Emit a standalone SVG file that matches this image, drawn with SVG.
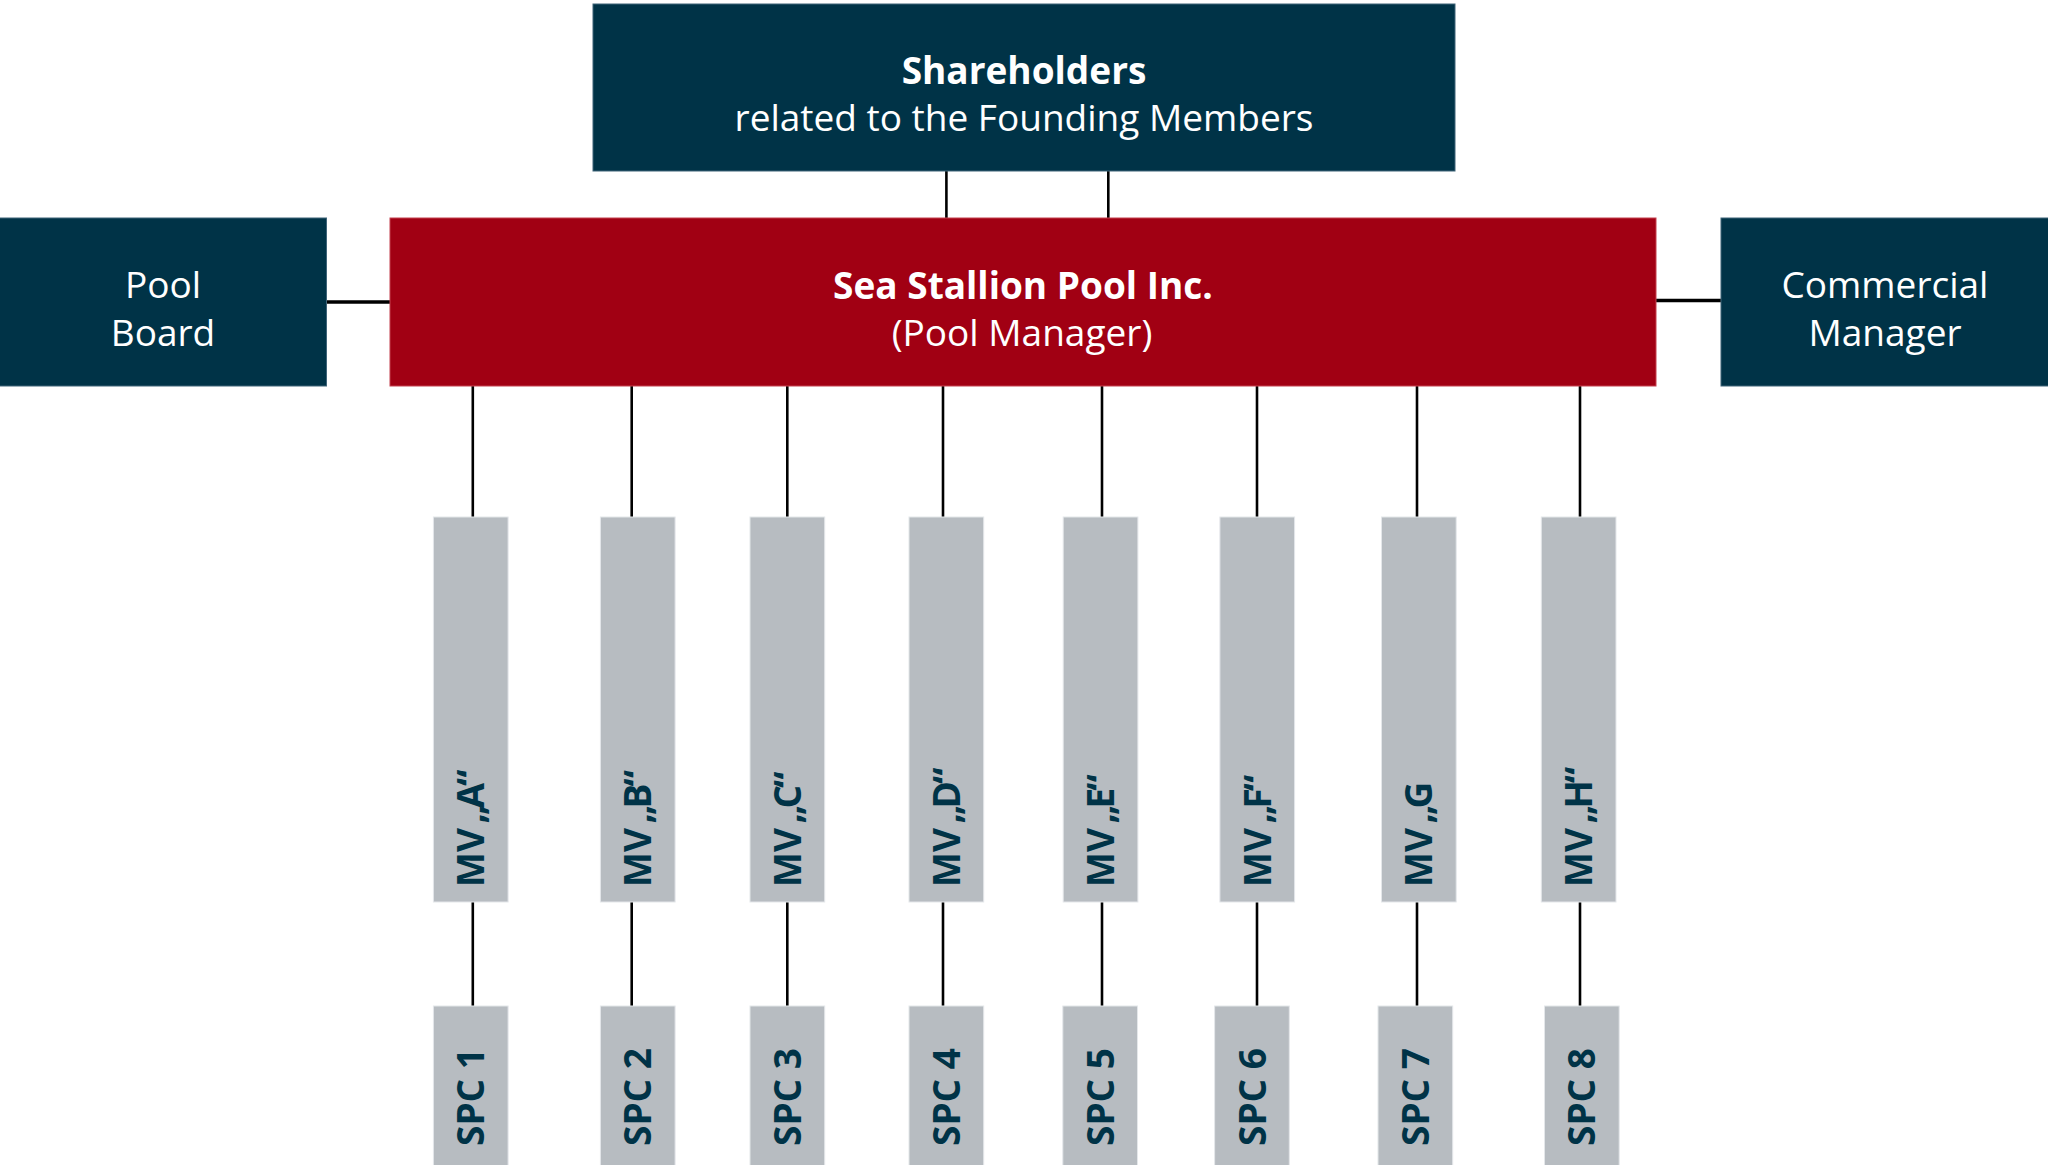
<svg xmlns="http://www.w3.org/2000/svg" width="2048" height="1165" viewBox="0 0 2048 1165">
<style>
.navy{fill:#003347;stroke:#3f6479;stroke-width:1}
.red{fill:#A10013;stroke:#c4404f;stroke-width:1}
.grey{fill:#B7BCC1;stroke:#e4e7ea;stroke-width:1}
.wt{fill:#ffffff;font-family:"Open Sans","Noto Sans",sans-serif;font-size:37px;text-anchor:middle}
.b{font-weight:700}
.lbl{fill:#003347;font-family:"Open Sans","Noto Sans",sans-serif;font-size:37px;font-weight:700;text-anchor:start}
.ln{stroke:#000;stroke-width:2.6;fill:none}
.lnh{stroke:#000;stroke-width:3.5;fill:none}
</style>
<rect width="2048" height="1165" fill="#ffffff"/>
<g id="connectors">
<line class="ln" x1="946.4" y1="171" x2="946.4" y2="218"/>
<line class="ln" x1="1108.3" y1="171" x2="1108.3" y2="218"/>
<line class="lnh" x1="326" y1="302" x2="391" y2="302"/>
<line class="lnh" x1="1655" y1="300.5" x2="1722" y2="300.5"/>
<line class="ln" x1="472.8" y1="386" x2="472.8" y2="517"/>
<line class="ln" x1="631.7" y1="386" x2="631.7" y2="517"/>
<line class="ln" x1="787.3" y1="386" x2="787.3" y2="517"/>
<line class="ln" x1="943" y1="386" x2="943" y2="517"/>
<line class="ln" x1="1102" y1="386" x2="1102" y2="517"/>
<line class="ln" x1="1257" y1="386" x2="1257" y2="517"/>
<line class="ln" x1="1417" y1="386" x2="1417" y2="517"/>
<line class="ln" x1="1580" y1="386" x2="1580" y2="517"/>
<line class="ln" x1="472.8" y1="902" x2="472.8" y2="1006"/>
<line class="ln" x1="631.7" y1="902" x2="631.7" y2="1006"/>
<line class="ln" x1="787.3" y1="902" x2="787.3" y2="1006"/>
<line class="ln" x1="943" y1="902" x2="943" y2="1006"/>
<line class="ln" x1="1102" y1="902" x2="1102" y2="1006"/>
<line class="ln" x1="1257" y1="902" x2="1257" y2="1006"/>
<line class="ln" x1="1417" y1="902" x2="1417" y2="1006"/>
<line class="ln" x1="1580" y1="902" x2="1580" y2="1006"/>
</g>
<g id="shareholders">
<rect class="navy" x="593" y="4" width="862" height="167"/>
<text class="wt b" x="1024" y="84" font-size="36">Shareholders</text>
<text class="wt" x="1024" y="131">related to the Founding Members</text>
</g>
<g id="pool-board">
<rect class="navy" x="-1" y="218" width="327.5" height="168"/>
<text class="wt" x="163" y="298">Pool</text>
<text class="wt" x="163" y="346">Board</text>
</g>
<g id="pool-manager">
<rect class="red" x="390" y="218" width="1266" height="168"/>
<text class="wt b" x="1023" y="298.5" font-size="36">Sea Stallion Pool Inc.</text>
<text class="wt" x="1022" y="345.5">(Pool Manager)</text>
</g>
<g id="commercial-manager">
<rect class="navy" x="1721" y="218" width="328" height="168"/>
<text class="wt" x="1885" y="298">Commercial</text>
<text class="wt" x="1885" y="346">Manager</text>
</g>
<g id="mv-a"><rect class="grey" x="433.4" y="517" width="74.7" height="385"/><text class="lbl" transform="translate(484.3,887) rotate(-90)">MV <tspan dx="-5">„</tspan><tspan dx="-4">A</tspan><tspan dx="-3">“</tspan></text></g>
<g id="mv-b"><rect class="grey" x="600.4" y="517" width="74.7" height="385"/><text class="lbl" transform="translate(651.3,887) rotate(-90)">MV <tspan dx="-5">„</tspan><tspan dx="-4">B</tspan><tspan dx="-3">“</tspan></text></g>
<g id="mv-c"><rect class="grey" x="750" y="517" width="74.7" height="385"/><text class="lbl" transform="translate(800.9,887) rotate(-90)">MV <tspan dx="-5">„</tspan><tspan dx="-4">C</tspan><tspan dx="-3">“</tspan></text></g>
<g id="mv-d"><rect class="grey" x="909" y="517" width="74.7" height="385"/><text class="lbl" transform="translate(959.9,887) rotate(-90)">MV <tspan dx="-5">„</tspan><tspan dx="-4">D</tspan><tspan dx="-3">“</tspan></text></g>
<g id="mv-e"><rect class="grey" x="1063.2" y="517" width="74.7" height="385"/><text class="lbl" transform="translate(1114.1,887) rotate(-90)">MV <tspan dx="-5">„</tspan><tspan dx="-4">E</tspan><tspan dx="-3">“</tspan></text></g>
<g id="mv-f"><rect class="grey" x="1219.9" y="517" width="74.7" height="385"/><text class="lbl" transform="translate(1270.8,887) rotate(-90)">MV <tspan dx="-5">„</tspan><tspan dx="-4">F</tspan><tspan dx="-3">“</tspan></text></g>
<g id="mv-g"><rect class="grey" x="1381.5" y="517" width="74.7" height="385"/><text class="lbl" transform="translate(1432.4,887) rotate(-90)">MV <tspan dx="-5">„</tspan><tspan dx="-4">G</tspan></text></g>
<g id="mv-h"><rect class="grey" x="1541.3" y="517" width="74.7" height="385"/><text class="lbl" transform="translate(1592.2,887) rotate(-90)">MV <tspan dx="-5">„</tspan><tspan dx="-4">H</tspan><tspan dx="-3">“</tspan></text></g>
<g id="spc-1"><rect class="grey" x="433.4" y="1006" width="74.7" height="160"/><text class="lbl" transform="translate(484.3,1146) rotate(-90)">SPC 1</text></g>
<g id="spc-2"><rect class="grey" x="600.4" y="1006" width="74.7" height="160"/><text class="lbl" transform="translate(651.3,1146) rotate(-90)">SPC 2</text></g>
<g id="spc-3"><rect class="grey" x="750" y="1006" width="74.7" height="160"/><text class="lbl" transform="translate(800.9,1146) rotate(-90)">SPC 3</text></g>
<g id="spc-4"><rect class="grey" x="909" y="1006" width="74.7" height="160"/><text class="lbl" transform="translate(959.9,1146) rotate(-90)">SPC 4</text></g>
<g id="spc-5"><rect class="grey" x="1062.8" y="1006" width="74.7" height="160"/><text class="lbl" transform="translate(1113.7,1146) rotate(-90)">SPC 5</text></g>
<g id="spc-6"><rect class="grey" x="1214.6" y="1006" width="74.7" height="160"/><text class="lbl" transform="translate(1265.5,1146) rotate(-90)">SPC 6</text></g>
<g id="spc-7"><rect class="grey" x="1378" y="1006" width="74.7" height="160"/><text class="lbl" transform="translate(1428.9,1146) rotate(-90)">SPC 7</text></g>
<g id="spc-8"><rect class="grey" x="1544.5" y="1006" width="74.7" height="160"/><text class="lbl" transform="translate(1595.4,1146) rotate(-90)">SPC 8</text></g>
</svg>
